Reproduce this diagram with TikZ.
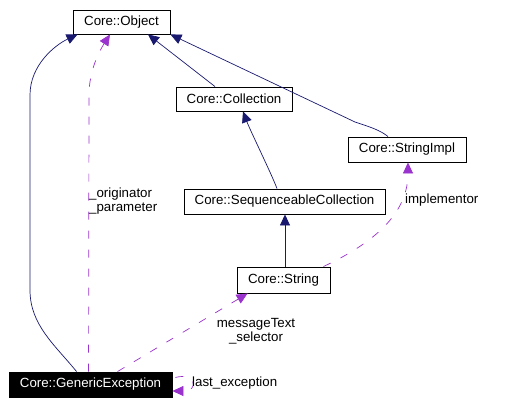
\documentclass[tikz,border=0pt]{standalone}
\usepackage{fontspec}
\setmainfont{Liberation Sans}
\usetikzlibrary{arrows.meta,calc}
\definecolor{navy}{HTML}{191970}
\definecolor{purp}{HTML}{9A32CD}
\tikzset{
  cls/.style={draw=black, line width=0.9pt, fill=white, inner sep=0pt, font=\fontsize{13.3}{15}\selectfont},
  inh/.style={draw=navy, line width=0.7pt, -{Triangle[length=11pt,width=10pt]}},
  use/.style={draw=purp, line width=0.7pt, dash pattern=on 8pt off 11pt, -{Triangle[length=11pt,width=10pt]}},
  lbl/.style={inner sep=0pt, font=\fontsize{13.3}{14}\selectfont}
}
\begin{document}
\begin{tikzpicture}[x=1pt,y=-1pt]
\useasboundingbox (0,0) rectangle (514,404);
\node[cls, minimum width=97pt, minimum height=24pt] (obj) at (121.5,22) {Core::Object};
\node[cls, minimum width=116pt, minimum height=24pt] (coll) at (234,99) {Core::Collection};
\node[cls, minimum width=118pt, minimum height=25pt] (si) at (407,149.5) {Core::StringImpl};
\node[cls, minimum width=201pt, minimum height=25pt] (sc) at (284.5,201.5) {Core::SequenceableCollection};
\node[cls, minimum width=93pt, minimum height=26pt] (str) at (283.5,280) {Core::String};
\node[cls, fill=black, text=white, minimum width=163pt, minimum height=25pt] (ge) at (90.5,384.5) {Core::GenericException};

% inheritance
\draw[inh] ($(ge.north west)+(68,0)$) .. controls (55,345) and (30,325) .. (30,290) -- (30,95) .. controls (30,65) and (55,45) .. ($(obj.south west)+(5,0)$);
\draw[inh] ($(coll.north)+(-19,0)$) -- ($(obj.south)+(26.5,0)$);
\draw[inh] ($(si.north)+(-19,0)$) .. controls (380,130) and (370,127) .. (355,122) -- (obj.south east);
\draw[inh] ($(sc.north)+(-7.5,0)$) .. controls (272,175) and (250,130) .. ($(coll.south)+(9,0)$);
\draw[inh] ($(str.north)+(1.5,0)$) -- ($(sc.south)+(0.5,0)$);

% usage
\draw[use] ($(ge.north west)+(80,0)$) -- (89,95) .. controls (89,70) and (100,50) .. ($(obj.south)+(-11.5,0)$);
\draw[use] ($(ge.north west)+(109,0)$) -- ($(str.south west)+(11,0)$);
\draw[use] ($(str.north east)+(-7,0)$) .. controls (380,240) and (408,210) .. ($(si.south)+(1,0)$);
\draw[use] ($(ge.east)+(3,-7)$) .. controls (195,372) and (200,391) .. ($(ge.east)+(0,6.5)$);

% labels
\node[lbl, anchor=west, align=left] (l1) at (89,201) {\_originator\\\_parameter};
\node[lbl, align=center] (l2) at (256,331.5) {messageText\\\_selector};
\node[lbl, anchor=west] (l3) at (405,200) {implementor};
\node[lbl, anchor=west] (l4) at (192,383) {last\_exception};
\end{tikzpicture}
\end{document}
